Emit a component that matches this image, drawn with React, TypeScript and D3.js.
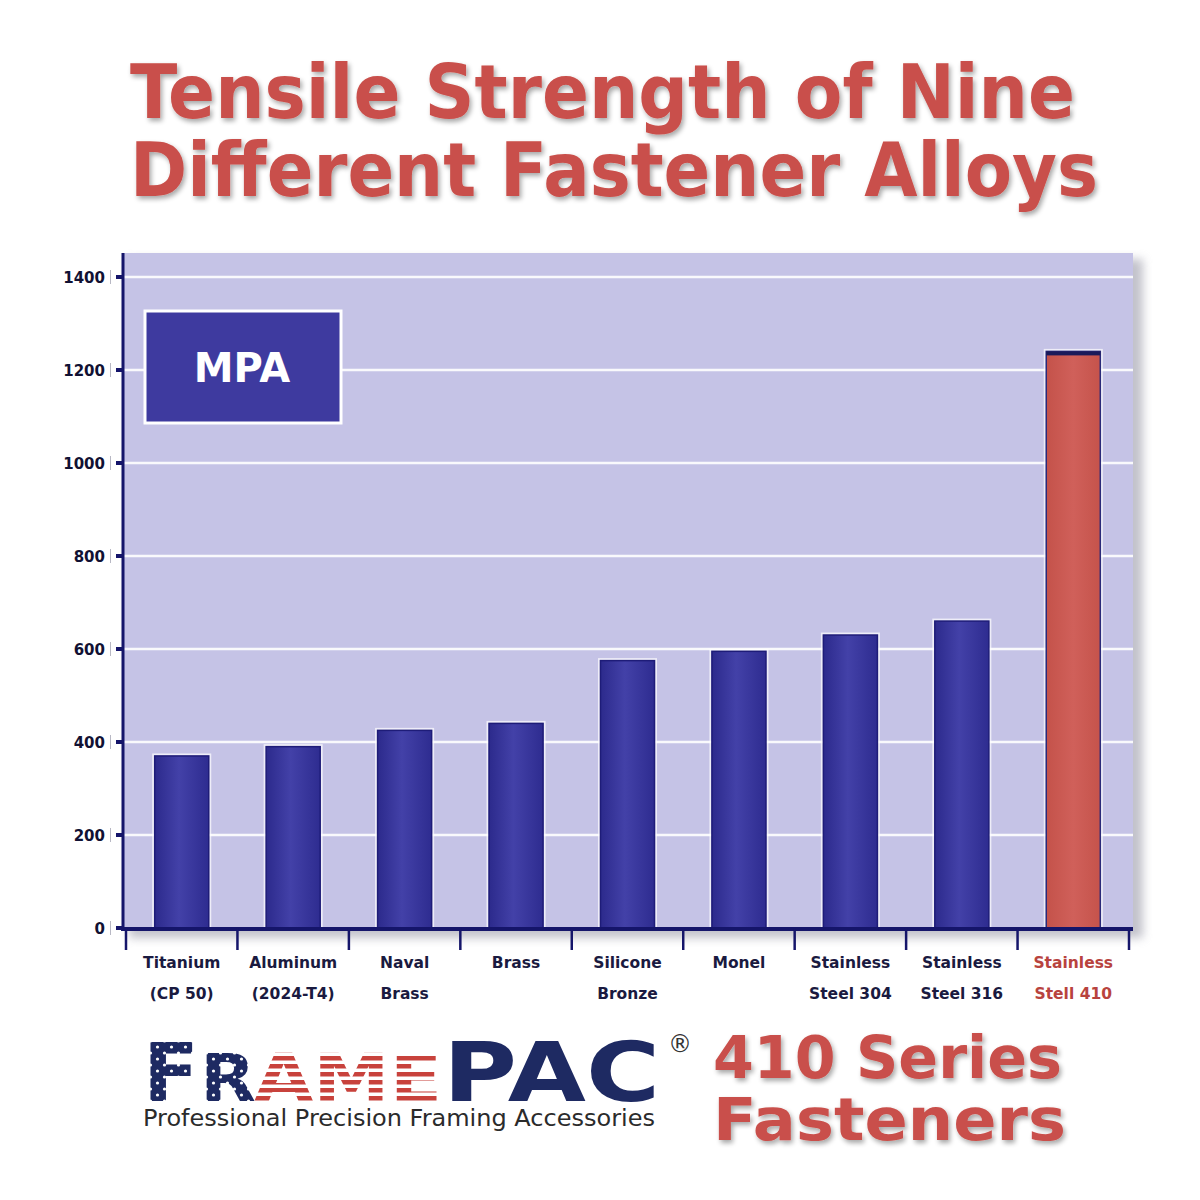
import React from "react";
import * as d3 from "d3";

const categories = ["Titanium (CP 50)", "Aluminum (2024-T4)", "Naval Brass", "Brass", "Silicone Bronze", "Monel", "Stainless Steel 304", "Stainless Steel 316", "Stainless Stell 410"];
const labelLine1 = ["Titanium", "Aluminum", "Naval", "Brass", "Silicone", "Monel", "Stainless", "Stainless", "Stainless"];
const labelLine2 = ["(CP 50)", "(2024-T4)", "Brass", "", "Bronze", "", "Steel 304", "Steel 316", "Stell 410"];
const tensileMPa = [370, 390, 425, 440, 575, 595, 630, 660, 1240];
const highlighted = [false, false, false, false, false, false, false, false, true];
const yTicks = [0, 200, 400, 600, 800, 1000, 1200, 1400];
const titleLines = ["Tensile Strength of Nine", "Different Fastener Alloys"];
const unitLabel = "MPA";

const W = 1200, H = 1200;
const plotLeft = 123, plotRight = 1133, plotTop = 253, plotBottom = 928;
const navy = "#15156a";
const red = "#c9504b";

export default function App() {
  const x = d3.scaleBand<string>().domain(categories).range([126, 1129]).paddingInner(0.515).paddingOuter(0.2575);
  const xb = d3.scaleBand<string>().domain(categories).range([126, 1129]);
  const y = d3.scaleLinear().domain([0, 1400]).range([plotBottom, 277]);

  return (
    <svg width={W} height={H} viewBox={`0 0 ${W} ${H}`} style={{ position: "absolute", left: 0, top: 0, background: "#fff" }}>
      <defs>
        <filter id="shadow" x="-10%" y="-10%" width="120%" height="120%">
          <feGaussianBlur stdDeviation="5" />
        </filter>
        <filter id="tshadow" x="-5%" y="-20%" width="110%" height="140%">
          <feGaussianBlur in="SourceAlpha" stdDeviation="2.5" />
          <feOffset dx="2" dy="3" result="b" />
          <feComponentTransfer><feFuncA type="linear" slope="0.35" /></feComponentTransfer>
          <feMerge><feMergeNode /><feMergeNode in="SourceGraphic" /></feMerge>
        </filter>
        <linearGradient id="blueBar" x1="0" x2="1" y1="0" y2="0">
          <stop offset="0" stopColor="#2c2a8c" />
          <stop offset="0.45" stopColor="#4341a8" />
          <stop offset="1" stopColor="#2e2c90" />
        </linearGradient>
        <linearGradient id="redBar" x1="0" x2="1" y1="0" y2="0">
          <stop offset="0" stopColor="#c4524a" />
          <stop offset="0.5" stopColor="#d0605a" />
          <stop offset="1" stopColor="#c5534b" />
        </linearGradient>
        <pattern id="stars" width="14" height="12" patternUnits="userSpaceOnUse">
          <rect width="14" height="12" fill="#1e2a62" />
          <circle cx="3.5" cy="3" r="1.6" fill="#fff" />
          <circle cx="10.5" cy="9" r="1.6" fill="#fff" />
        </pattern>
        <pattern id="stripes" width="10" height="8" patternUnits="userSpaceOnUse">
          <rect width="10" height="8" fill="#fff" />
          <rect width="10" height="4.5" fill="#c8423c" />
        </pattern>
      </defs>

      {/* Title */}
      <g filter="url(#tshadow)" fontFamily="'DejaVu Sans', Verdana, sans-serif" fontWeight="bold" fill={red}>
        <text x={130} y={118} fontSize={74} textLength={945} lengthAdjust="spacingAndGlyphs">{titleLines[0]}</text>
        <text x={130} y={196} fontSize={74} textLength={968} lengthAdjust="spacingAndGlyphs">{titleLines[1]}</text>
      </g>

      {/* Plot shadow and background */}
      <rect x={plotLeft + 6} y={plotTop + 6} width={plotRight - plotLeft + 4} height={plotBottom - plotTop + 4} fill="#9a9aa8" opacity={0.6} filter="url(#shadow)" />
      <rect x={plotLeft} y={plotTop} width={plotRight - plotLeft} height={plotBottom - plotTop} fill="#c5c3e6" />

      {/* Gridlines */}
      {yTicks.filter(t => t > 0).map(t => (
        <line key={t} x1={plotLeft} x2={plotRight} y1={y(t)} y2={y(t)} stroke="#ffffff" strokeWidth={2.5} opacity={0.9} />
      ))}

      {/* Unit box */}
      <rect x={145} y={311} width={196} height={112} fill="#3e3a9f" stroke="#ffffff" strokeWidth={3} />
      <text x={242} y={382} textAnchor="middle" fontFamily="'DejaVu Sans', Verdana, sans-serif" fontWeight="bold" fontSize={40} fill="#ffffff">{unitLabel}</text>

      {/* Bars */}
      {categories.map((c, i) => {
        const bx = x(c)!;
        const bw = x.bandwidth();
        const top = y(tensileMPa[i]);
        return (
          <g key={c}>
            <rect x={bx - 1.5} y={top - 1.5} width={bw + 3} height={plotBottom - top + 1.5} fill="none" stroke="#ffffff" strokeWidth={2} opacity={0.7} />
            <rect x={bx} y={top} width={bw} height={plotBottom - top} fill={highlighted[i] ? "url(#redBar)" : "url(#blueBar)"} stroke={highlighted[i] ? "#2a2a7a" : "#1e1c78"} strokeWidth={1.5} />
            {highlighted[i] && <rect x={bx} y={top} width={bw} height={4} fill="#1a1a5a" />}
          </g>
        );
      })}

      {/* Y axis */}
      <line x1={plotLeft} x2={plotLeft} y1={plotTop} y2={plotBottom} stroke={navy} strokeWidth={3} />
      {yTicks.map(t => (
        <g key={t}>
          <line x1={116} x2={plotLeft} y1={y(t)} y2={y(t)} stroke={navy} strokeWidth={4} />
          <line x1={110.5} x2={110.5} y1={y(t) - 7} y2={y(t) + 7} stroke="#b8b8c4" strokeWidth={1} />
          <text x={105} y={y(t) + 5.5} textAnchor="end" fontFamily="'DejaVu Sans', Verdana, sans-serif" fontWeight="bold" fontSize={15} fill="#111133">{t}</text>
        </g>
      ))}

      {/* X axis */}
      <line x1={plotLeft - 2} x2={plotRight} y1={plotBottom + 1} y2={plotBottom + 1} stroke={navy} strokeWidth={4} />
      {categories.map(c => (
        <line key={"t" + c} x1={xb(c)!} x2={xb(c)!} y1={plotBottom} y2={plotBottom + 22} stroke={navy} strokeWidth={2.5} />
      ))}
      <line x1={1129} x2={1129} y1={plotBottom} y2={plotBottom + 22} stroke={navy} strokeWidth={2.5} />

      {/* Category labels */}
      {categories.map((c, i) => {
        const cx = xb(c)! + xb.bandwidth() / 2;
        const col = highlighted[i] ? "#b8433e" : "#1a1a40";
        return (
          <g key={"l" + c} fontFamily="'DejaVu Sans', Verdana, sans-serif" fontWeight="bold" fontSize={15.5} fill={col} textAnchor="middle">
            <text x={cx} y={968}>{labelLine1[i]}</text>
            {labelLine2[i] && <text x={cx} y={999}>{labelLine2[i]}</text>}
          </g>
        );
      })}

      {/* Logo */}
      <g fontFamily="'DejaVu Sans', Verdana, sans-serif" fontWeight="bold">
        <text x={143} y={1101} fontSize={80} fill="url(#stars)" textLength={56} lengthAdjust="spacingAndGlyphs">F</text>
        <text x={200} y={1101} fontSize={66} fill="url(#stars)" textLength={56} lengthAdjust="spacingAndGlyphs">R</text>
        <text x={254} y={1101} fontSize={66} fill="url(#stripes)" textLength={188} lengthAdjust="spacingAndGlyphs">AME</text>
        <text x={443} y={1101} fontSize={82} fill="#1e2a62" textLength={217} lengthAdjust="spacingAndGlyphs">PAC</text>
        <text x={668} y={1052} fontSize={24} fontWeight="normal" fill="#333">®</text>
      </g>
      <text x={143} y={1126} fontFamily="'DejaVu Sans', Verdana, sans-serif" fontSize={23} fill="#2b2b2b" textLength={512} lengthAdjust="spacingAndGlyphs">Professional  Precision  Framing  Accessories</text>

      <g fontFamily="'DejaVu Sans', Verdana, sans-serif" fontWeight="bold" fill={red} filter="url(#tshadow)">
        <text x={713} y={1078} fontSize={58} textLength={349} lengthAdjust="spacingAndGlyphs">410 Series</text>
        <text x={713} y={1140} fontSize={58} textLength={353} lengthAdjust="spacingAndGlyphs">Fasteners</text>
      </g>
    </svg>
  );
}
